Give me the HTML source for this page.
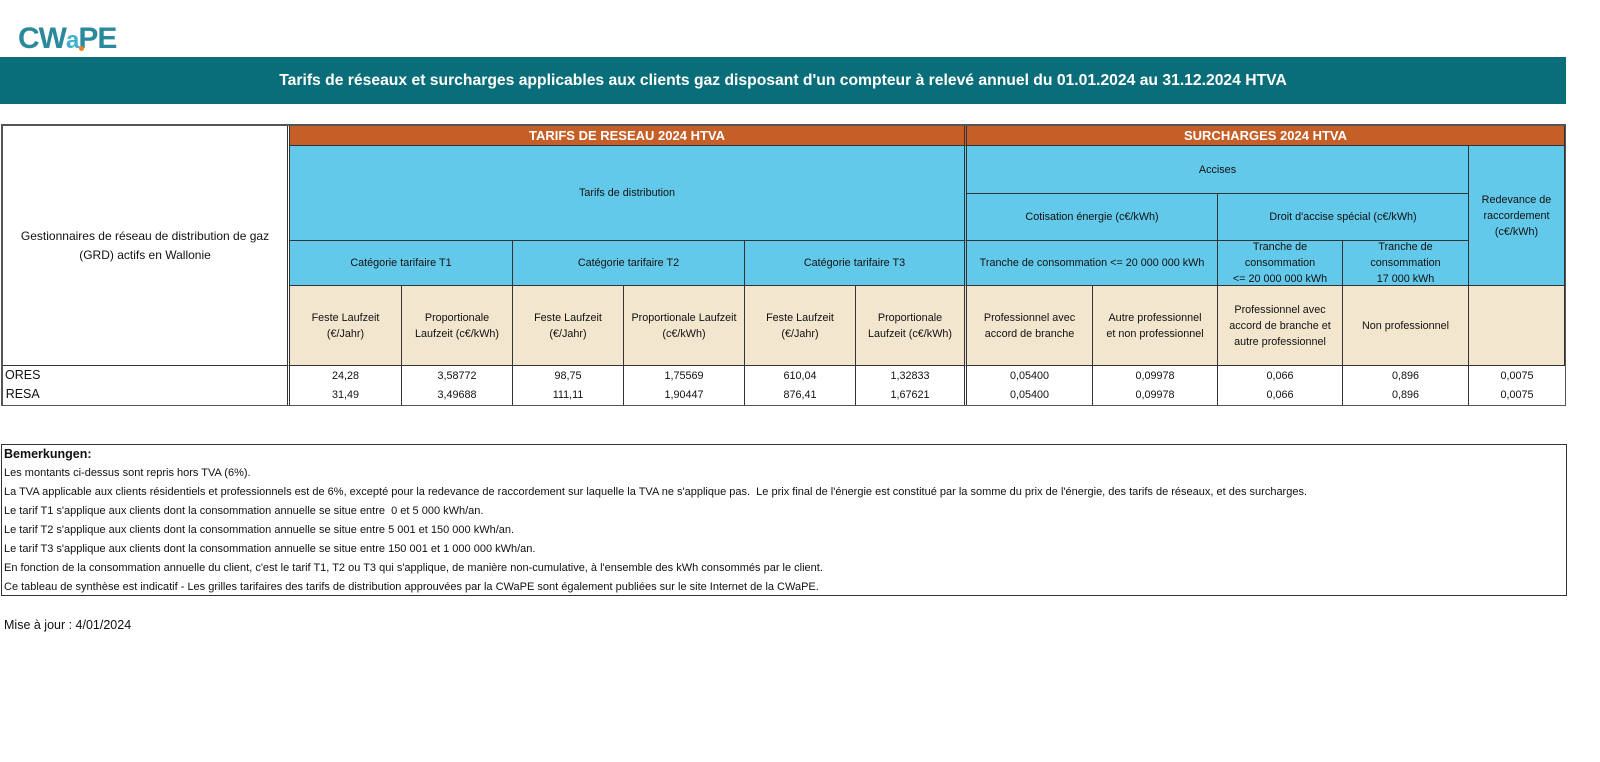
<!DOCTYPE html>
<html><head><meta charset="utf-8">
<style>
body{margin:0;width:1600px;height:762px;background:#fff;position:relative;overflow:hidden;font-family:"Liberation Sans",sans-serif;color:#111}
.c{position:absolute;display:flex;align-items:center;justify-content:center;text-align:center;box-sizing:border-box;border-right:1px solid #333;border-bottom:1px solid #333;font-size:10.8px;line-height:16px}
.o{background:#c55f27;color:#fff;font-weight:bold;font-size:13px}
.b{background:#63c9ea}
.y{background:#f2e6cf}
.w{background:#fff}
.r{position:absolute;left:4px;font-size:11px;white-space:nowrap}
</style></head><body>
<div style="position:absolute;left:18px;top:22px;font-size:30px;font-weight:bold;color:#2a8a9c;letter-spacing:-1px">CW<span style="color:#3fb0cc;font-size:24px">a</span>PE<span style="position:absolute;left:61px;top:24px;width:5px;height:5px;background:#f08020;border-radius:50%"></span></div>
<div style="position:absolute;left:0;top:57px;width:1566px;height:47px;background:#0a6e7a;color:#fff;font-weight:bold;font-size:15.7px;display:flex;align-items:center;justify-content:center">Tarifs de réseaux et surcharges applicables aux clients gaz disposant d'un compteur à relevé annuel du 01.01.2024 au 31.12.2024 HTVA</div>

<div style="position:absolute;left:1px;top:124px;width:1565px;height:282px;border:2px solid #555;box-sizing:border-box"></div>
<div class="c w" style="left:3px;top:126px;width:287px;height:240px;font-size:12px;line-height:19px;border-right:3px double #333">Gestionnaires de réseau de distribution de gaz<br>(GRD) actifs en Wallonie</div>
<div class="c o" style="left:290px;top:126px;width:677px;height:20px;border-right:3px double #333">TARIFS DE RESEAU 2024 HTVA</div>
<div class="c o" style="left:967px;top:126px;width:598px;height:20px">SURCHARGES 2024 HTVA</div>
<div class="c b" style="left:290px;top:146px;width:677px;height:95px;border-right:3px double #333">Tarifs de distribution</div>
<div class="c b" style="left:290px;top:241px;width:223px;height:45px">Catégorie tarifaire T1</div>
<div class="c b" style="left:513px;top:241px;width:232px;height:45px">Catégorie tarifaire T2</div>
<div class="c b" style="left:745px;top:241px;width:222px;height:45px;border-right:3px double #333">Catégorie tarifaire T3</div>
<div class="c b" style="left:967px;top:146px;width:502px;height:48px">Accises</div>
<div class="c b" style="left:1469px;top:146px;width:96px;height:140px">Redevance de raccordement (c€/kWh)</div>
<div class="c b" style="left:967px;top:194px;width:251px;height:47px">Cotisation énergie (c€/kWh)</div>
<div class="c b" style="left:1218px;top:194px;width:251px;height:47px">Droit d'accise spécial (c€/kWh)</div>
<div class="c b" style="left:967px;top:241px;width:251px;height:45px">Tranche de consommation &lt;= 20 000 000 kWh</div>
<div class="c b" style="left:1218px;top:241px;width:125px;height:45px">Tranche de<br>consommation<br>&lt;= 20 000 000 kWh</div>
<div class="c b" style="left:1343px;top:241px;width:126px;height:45px">Tranche de<br>consommation<br>17 000 kWh</div>

<div class="c y" style="left:290px;top:286px;width:112px;height:80px">Feste Laufzeit<br>(€/Jahr)</div>
<div class="c y" style="left:402px;top:286px;width:111px;height:80px">Proportionale<br>Laufzeit (c€/kWh)</div>
<div class="c y" style="left:513px;top:286px;width:111px;height:80px">Feste Laufzeit<br>(€/Jahr)</div>
<div class="c y" style="left:624px;top:286px;width:121px;height:80px">Proportionale Laufzeit<br>(c€/kWh)</div>
<div class="c y" style="left:745px;top:286px;width:111px;height:80px">Feste Laufzeit<br>(€/Jahr)</div>
<div class="c y" style="left:856px;top:286px;width:111px;height:80px;border-right:3px double #333">Proportionale<br>Laufzeit (c€/kWh)</div>
<div class="c y" style="left:967px;top:286px;width:126px;height:80px">Professionnel avec<br>accord de branche</div>
<div class="c y" style="left:1093px;top:286px;width:125px;height:80px">Autre professionnel<br>et non professionnel</div>
<div class="c y" style="left:1218px;top:286px;width:125px;height:80px">Professionnel avec<br>accord de branche et<br>autre professionnel</div>
<div class="c y" style="left:1343px;top:286px;width:126px;height:80px">Non professionnel</div>
<div class="c y" style="left:1469px;top:286px;width:96px;height:80px"></div>

<div class="c w" style="left:3px;top:366px;width:287px;height:39px;border-right:3px double #333;border-bottom:none;justify-content:flex-start;align-items:flex-start;font-size:12.5px;line-height:19px;padding-left:2px">ORES<br>RESA</div>
<div class="c w" style="left:290px;top:366px;width:112px;height:39px;border-bottom:none;line-height:19px">24,28<br>31,49</div>
<div class="c w" style="left:402px;top:366px;width:111px;height:39px;border-bottom:none;line-height:19px">3,58772<br>3,49688</div>
<div class="c w" style="left:513px;top:366px;width:111px;height:39px;border-bottom:none;line-height:19px">98,75<br>111,11</div>
<div class="c w" style="left:624px;top:366px;width:121px;height:39px;border-bottom:none;line-height:19px">1,75569<br>1,90447</div>
<div class="c w" style="left:745px;top:366px;width:111px;height:39px;border-bottom:none;line-height:19px">610,04<br>876,41</div>
<div class="c w" style="left:856px;top:366px;width:111px;height:39px;border-bottom:none;line-height:19px;border-right:3px double #333">1,32833<br>1,67621</div>
<div class="c w" style="left:967px;top:366px;width:126px;height:39px;border-bottom:none;line-height:19px">0,05400<br>0,05400</div>
<div class="c w" style="left:1093px;top:366px;width:125px;height:39px;border-bottom:none;line-height:19px">0,09978<br>0,09978</div>
<div class="c w" style="left:1218px;top:366px;width:125px;height:39px;border-bottom:none;line-height:19px">0,066<br>0,066</div>
<div class="c w" style="left:1343px;top:366px;width:126px;height:39px;border-bottom:none;line-height:19px">0,896<br>0,896</div>
<div class="c w" style="left:1469px;top:366px;width:96px;height:39px;border-bottom:none;border-right:none;line-height:19px">0,0075<br>0,0075</div>

<div style="position:absolute;left:1px;top:444px;width:1566px;height:152px;border:1px solid #333;box-sizing:border-box"></div>
<div class="r" style="top:447px;font-weight:bold;font-size:12.5px">Bemerkungen:</div>
<div class="r" style="top:467px">Les montants ci-dessus sont repris hors TVA (6%).</div>
<div class="r" style="top:486px">La TVA applicable aux clients résidentiels et professionnels est de 6%, excepté pour la redevance de raccordement sur laquelle la TVA ne s'applique pas.&nbsp; Le prix final de l'énergie est constitué par la somme du prix de l'énergie, des tarifs de réseaux, et des surcharges.</div>
<div class="r" style="top:505px">Le tarif T1 s'applique aux clients dont la consommation annuelle se situe entre&nbsp; 0 et 5 000 kWh/an.</div>
<div class="r" style="top:524px">Le tarif T2 s'applique aux clients dont la consommation annuelle se situe entre 5 001 et 150 000 kWh/an.</div>
<div class="r" style="top:543px">Le tarif T3 s'applique aux clients dont la consommation annuelle se situe entre 150 001 et 1 000 000 kWh/an.</div>
<div class="r" style="top:562px">En fonction de la consommation annuelle du client, c'est le tarif T1, T2 ou T3 qui s'applique, de manière non-cumulative, à l'ensemble des kWh consommés par le client.</div>
<div class="r" style="top:581px">Ce tableau de synthèse est indicatif - Les grilles tarifaires des tarifs de distribution approuvées par la CWaPE sont également publiées sur le site Internet de la CWaPE.</div>
<div class="r" style="top:618px;font-size:12.5px">Mise à jour : 4/01/2024</div>
</body></html>
